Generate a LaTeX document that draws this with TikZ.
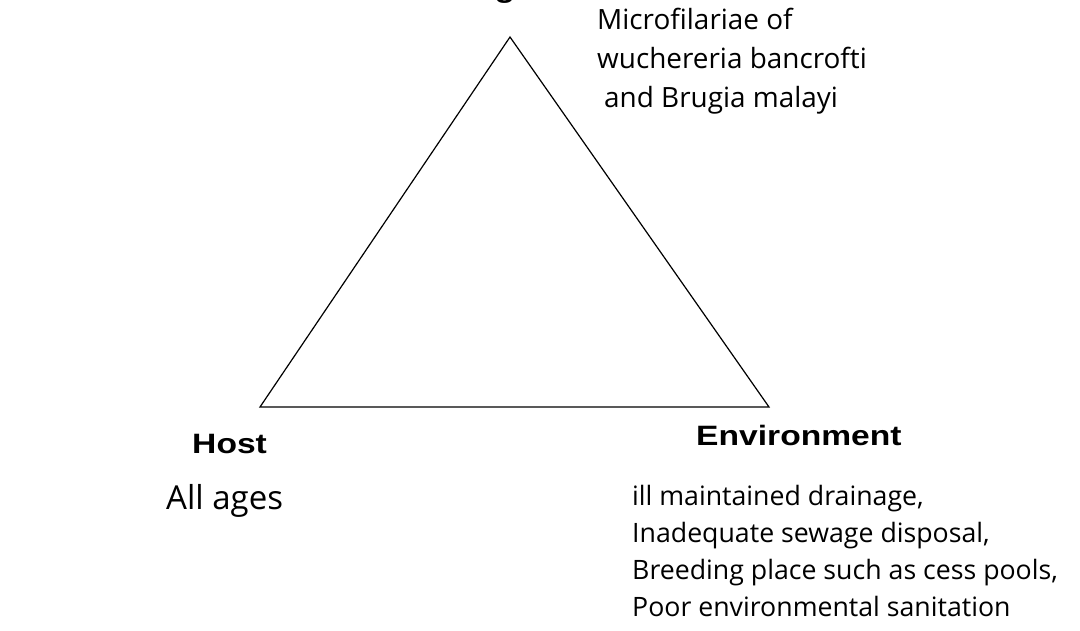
\documentclass[tikz,border=0pt]{standalone}
\usepackage{fontspec}
\usepackage{tikz}
\setmainfont{Open Sans}
\newfontfamily\labelfont{Liberation Sans}

\tikzset{
    corner label/.style={font=\labelfont\bfseries\fontsize{28}{30}\selectfont, xscale=1.2, inner sep=0pt},
    factor text/.style={align=left, inner sep=0pt, anchor=base west}
}

\begin{document}
\begin{tikzpicture}[x=1pt, y=-1pt]
        \useasboundingbox (0,0) rectangle (1080,630);

        % Corners of the epidemiological triangle
        \coordinate (agent) at (510,37);
        \coordinate (host) at (260,407);
        \coordinate (env) at (769,407);

        % Draw the triangle
        \draw[line width=1.2pt] (agent) -- (env) -- (host) -- cycle;

        % Corner labels
        \node[corner label, anchor=base west] (agentlabel) at (470,-3) {Agent};
        \node[corner label, anchor=base west] (hostlabel) at (192,453) {Host};
        \node[corner label, anchor=base west] (envlabel) at (696,445) {Environment};

        % Factors of each corner (anchored at the baseline of the last line)
        \node[factor text, font=\fontsize{27.9}{39}\selectfont] (agenttext) at (597,107)
            {Microfilariae of\\wuchereria bancrofti\\\hspace*{7pt}and Brugia malayi};
        \node[factor text, font=\fontsize{33}{36}\selectfont] (hosttext) at (166,509) {All ages};
        \node[factor text, font=\fontsize{26.7}{36.7}\selectfont] (envtext) at (632,616)
            {ill maintained drainage,\\Inadequate sewage disposal,\\Breeding place such as cess pools,\\Poor environmental sanitation};
    \end{tikzpicture}
\end{document}
